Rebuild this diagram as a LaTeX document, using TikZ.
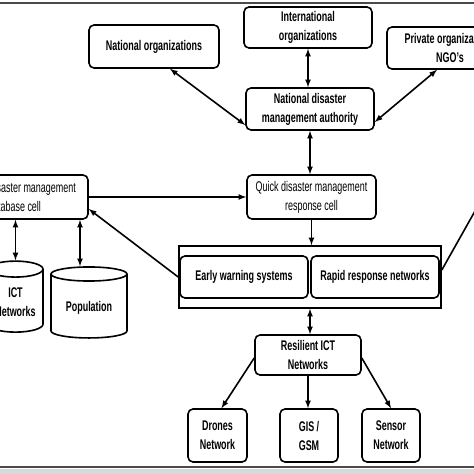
\documentclass[tikz,border=0pt]{standalone}
\usepackage{fontspec}
\setmainfont{Liberation Sans}[FakeStretch=0.64]
\usepackage{tikz}
\usetikzlibrary{arrows.meta}
\usetikzlibrary{shapes.geometric}
\definecolor{fr-line}{HTML}{4A4A4A}
\definecolor{fr-band}{HTML}{D9D9D9}

\begin{document}
\begin{tikzpicture}[
    x=1pt, y=-1pt,
    >=latex,
    % Box styles for the authority chart
    box/.style={draw, line width=1.6pt, rounded corners=5pt, align=center, inner sep=2pt, font=\fontsize{14}{19}\selectfont\bfseries},
    plainbox/.style={box, font=\fontsize{14}{19}\selectfont},
    dbstyle/.style={draw, line width=1.6pt, cylinder, shape border rotate=90, align=center, inner sep=2pt, font=\fontsize{14}{19}\selectfont\bfseries},
    link/.style={<->, line width=1.6pt},
    flow/.style={->, line width=1.6pt}
  ]

  % =========================================================================
  % PAGE CROP
  % =========================================================================
  \useasboundingbox (0,0) rectangle (474,474);
  \clip (0,0) rectangle (474,474);
  \fill[fr-band] (0,469) rectangle (474,474);
  \draw[fr-line, line width=1.5pt] (0,3) -- (474,3);
  \draw[fr-line, line width=1.5pt] (0,467) -- (474,467);

  % =========================================================================
  % ORGANIZATIONS AND AUTHORITY
  % =========================================================================
  \node[box, minimum width=130pt, minimum height=43pt] (natorg) at (154,46.5) {National organizations};
  \node[box, minimum width=128pt, minimum height=41pt] (intorg) at (308,27.5) {International\\organizations};
  \node[box, minimum width=126pt, minimum height=42pt] (privorg) at (450,48) {Private organizations\\NGO’s};
  \node[box, minimum width=128pt, minimum height=42pt] (ndma) at (310,109) {National disaster\\management authority};

  % =========================================================================
  % CELLS
  % =========================================================================
  \node[plainbox, align=left, minimum width=112pt, minimum height=44pt] (dbcell) at (32,197) {Disaster management\\database cell};
  \node[plainbox, minimum width=129pt, minimum height=44pt] (quick) at (311.5,197) {Quick disaster management\\response cell};

  % warning / response pair
  \node[draw, line width=1.6pt, minimum width=262pt, minimum height=62pt] (alert) at (310,277) {};
  \node[box, minimum width=128pt, minimum height=42pt] (early) at (244,277) {Early warning systems};
  \node[box, minimum width=128pt, minimum height=42pt] (rapid) at (375,277) {Rapid response networks};

  % =========================================================================
  % NETWORKS
  % =========================================================================
  \node[box, minimum width=106pt, minimum height=40pt] (resil) at (308,355) {Resilient ICT\\Networks};
  \node[box, minimum width=59pt, minimum height=53pt] (drones) at (217.5,435.5) {Drones\\Network};
  \node[box, minimum width=58pt, minimum height=53pt] (gis) at (309,435.5) {GIS /\\GSM};
  \node[box, minimum width=58pt, minimum height=53pt] (sensor) at (391,435.5) {Sensor\\Network};

  % databases
  \node[dbstyle, aspect=0.36, minimum width=55pt, minimum height=71pt] (ict) at (15.5,302.5) {ICT\\Networks};
  \node[dbstyle, aspect=0.28, minimum width=76pt, minimum height=71pt] (popul) at (89,307.5) {Population};

  \coordinate (offright) at (506,156);

  % =========================================================================
  % CONNECTORS
  % =========================================================================
  \draw[link] (intorg.south) -- (intorg.south |- ndma.north);
  \draw[link] ([xshift=16pt]natorg.south) -- ([yshift=-16pt]ndma.west);
  \draw[link] ([xshift=-13pt]privorg.south) -- ([yshift=-13pt]ndma.east);
  \draw[link] (ndma.south) -- (ndma.south |- quick.north);
  \draw[flow] (dbcell.east) -- (quick.west);
  \draw[flow] (alert.west) -- ([yshift=-12pt]dbcell.east);
  \draw[flow] (quick.south) -- (quick.south |- alert.north);
  \draw[link] (alert.south) -- (alert.south |- resil.north);
  \draw[link] (ict.north) -- (ict.north |- dbcell.south);
  \draw[link] ([xshift=-9pt]popul.north) -- ([xshift=-9pt]popul.north |- dbcell.south);
  \draw[flow] ([yshift=-3pt]resil.west) -- ([xshift=4pt]drones.north);
  \draw[flow] (resil.south) -- (resil.south |- gis.north);
  \draw[flow] ([yshift=-3pt]resil.east) -- (sensor.north);
  \draw[line width=1.6pt] ([yshift=7pt]alert.east) -- (offright);

\end{tikzpicture}
\end{document}
